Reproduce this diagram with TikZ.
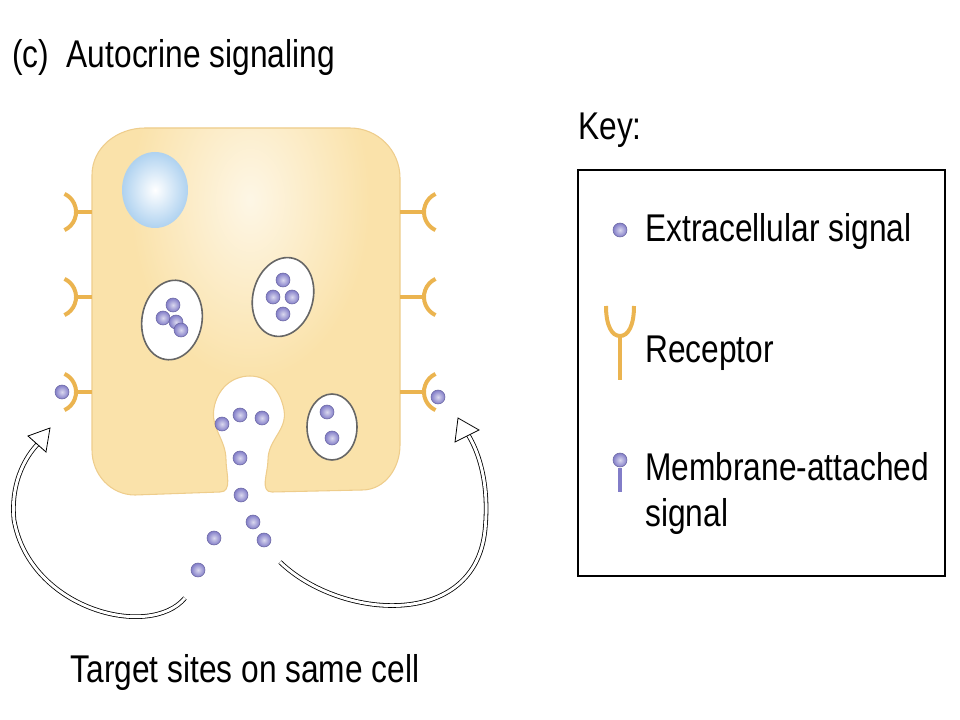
\documentclass[tikz,border=0pt]{standalone}
\usepackage{fontspec}
\setmainfont{Liberation Sans}[FakeStretch=0.82]
\usetikzlibrary{arrows.meta}
\definecolor{cellf}{RGB}{250,226,170}
\definecolor{celld}{RGB}{238,205,140}
\definecolor{rec}{RGB}{235,180,80}
\definecolor{dotc}{RGB}{130,125,200}
\definecolor{nuc}{RGB}{175,210,240}
\begin{document}
\begin{tikzpicture}[x=0.75pt,y=-0.75pt,
  txt/.style={font=\fontsize{29}{33}\selectfont,inner sep=0pt},
  sig/.style={circle,inner sep=0pt,minimum size=10.5pt,draw=dotc!80!black,line width=0.4pt,inner color=dotc!30!white,outer color=dotc},
  ves/.style={draw=gray!80!black,line width=1.2pt,fill=white},
  recs/.style={draw=rec,line width=3pt},
  dbl/.style={draw=black,double=white,double distance=2.2pt,line width=0.6pt}]
\useasboundingbox (0,0) rectangle (960,720);
% cell
\def\cellpath{(145,128) -- (350,128) to[out=0,in=90] (400,178) -- (400,445) to[out=-90,in=0] (362,490)
 -- (272,492) to[out=180,in=-90] (268,460) to[out=90,in=-80] (284,410)
 to[out=100,in=0] (250,376) to[out=180,in=80] (214,408)
 to[out=-100,in=90] (226,460) to[out=-90,in=0] (220,492)
 -- (135,495) to[out=180,in=-90] (92,450) -- (92,175) to[out=90,in=180] (145,128) -- cycle}
\begin{scope}
\clip \cellpath;
\fill[cellf] (0,0) rectangle (500,600);
\shade[inner color=cellf!30!white,outer color=cellf] (250,200) ellipse (120 and 180);
\end{scope}
\draw[celld,line width=0.8pt] \cellpath;
% nucleus
\shade[inner color=white,outer color=nuc] (155,190) ellipse (33 and 38);
% vesicles
\draw[ves,rotate around={-10:(172,320)}] (172,320) ellipse (30 and 40);
\draw[ves,rotate around={-15:(283,297)}] (283,297) ellipse (30 and 40);
\draw[ves] (332,427) ellipse (25 and 33);
\node[sig] (v1a) at (173,305) {}; \node[sig] (v1b) at (163,318) {};
\node[sig] (v1c) at (176,322) {}; \node[sig] (v1d) at (181,330) {};
\node[sig] (v2a) at (283,280) {}; \node[sig] (v2b) at (273,297) {};
\node[sig] (v2c) at (292,297) {}; \node[sig] (v2d) at (283,314) {};
\node[sig] (v3a) at (327,412) {}; \node[sig] (v3b) at (332,438) {};
% free signals
\foreach \n/\x/\y in {a/222/424,b/240/415,c/262/418,d/240/458,e/241/495,f/253/522,g/264/540,h/214/538,i/198/570}
  \node[sig] (s\n) at (\x,\y) {};
% receptors
\foreach \y in {212,297,392}{
  \draw[recs] (76,\y) -- (92,\y);
  \draw[recs] (64.5,\y+18.1) arc[start angle=-65,end angle=65,radius=15pt];
  \draw[recs] (400,\y) -- (424,\y);
  \draw[recs] (435.5,\y-18.1) arc[start angle=115,end angle=245,radius=15pt];
}
\node[sig] (lig1) at (62,392) {};
\node[sig] (lig2) at (438,397) {};
% arrows
\coordinate (la0) at (185,598); \coordinate (la1) at (50,428);
\coordinate (ra0) at (280,562); \coordinate (ra1) at (458,418);
\draw[dbl] (la0) .. controls (150,640) and (30,610) .. (14,520) .. controls (10,480) and (28,452) .. (42,440);
\draw[dbl] (ra0) .. controls (340,620) and (475,630) .. (485,530) .. controls (490,480) and (477,447) .. (465,430);
\draw[line width=0.6pt,fill=white] (la1) -- (28,436) -- (46,452) -- cycle;
\draw[line width=0.6pt,fill=white] (ra1) -- (479,430) -- (455,442) -- cycle;
% texts
\node[txt,anchor=base west] (title) at (12,68) {(c)\ \ Autocrine signaling};
\node[txt,anchor=base] (tgt) at (245,682) {Target sites on same cell};
\node[txt,anchor=base west] (key) at (578,140) {Key:};
\draw[line width=1pt] (578,170) rectangle (945,576);
\node[sig] (k1) at (620,230) {};
\node[txt,anchor=base west] (t1) at (645,242) {Extracellular signal};
\draw[recs] (620,336) -- (620,380);
\draw[recs] (606,306) .. controls (606,326) and (612,336) .. (620,336) .. controls (628,336) and (634,326) .. (634,306);
\node[txt,anchor=base west] (t2) at (645,362) {Receptor};
\draw[draw=dotc,line width=3pt] (620,468) -- (620,492);
\node[sig] (k3) at (620,460) {};
\node[txt,anchor=base west] (t3) at (645,480) {Membrane-attached};
\node[txt,anchor=base west] (t3b) at (645,526) {signal};
\end{tikzpicture}
\end{document}
